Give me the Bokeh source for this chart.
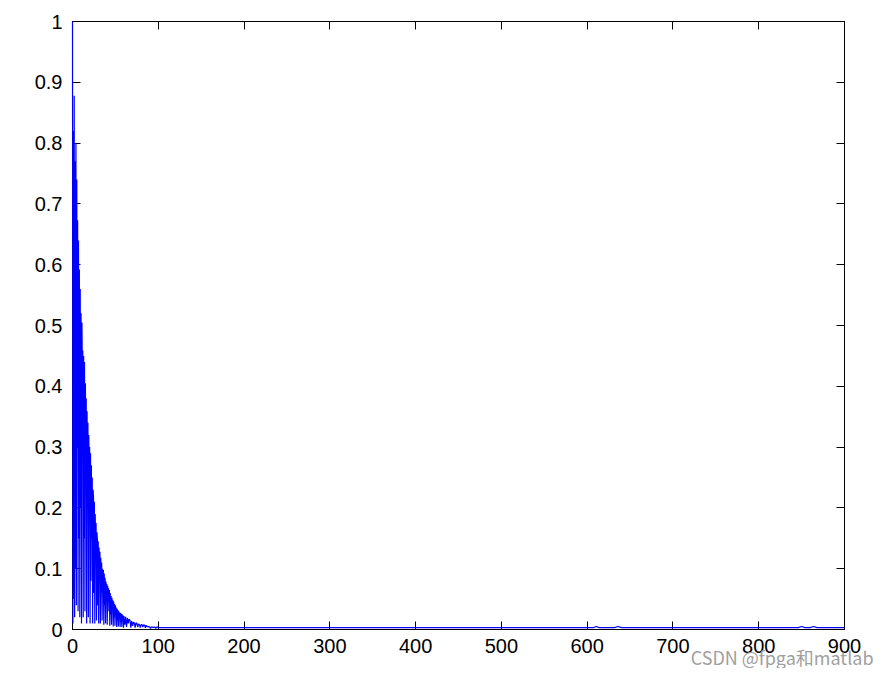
from bokeh.plotting import figure
from bokeh.models import Range1d, LinearAxis, FixedTicker, Title
from bokeh.embed import file_html
from bokeh.resources import INLINE

# ---- data ----
# dense part: samples every 0.5 from 0 to 60
dense_step = 0.5
dense_y = [1.000, 0.010, 0.820, 0.050, 0.878, 0.020, 0.770, 0.100, 0.800, 0.040,
           0.740, 0.300, 0.673, 0.030, 0.640, 0.150, 0.592, 0.020, 0.560, 0.200,
           0.520, 0.010, 0.505, 0.420, 0.459, 0.020, 0.450, 0.150, 0.440, 0.030,
           0.405, 0.330, 0.380, 0.010, 0.359, 0.200, 0.340, 0.020, 0.320, 0.250,
           0.300, 0.010, 0.290, 0.080, 0.270, 0.150, 0.250, 0.010, 0.230, 0.217,
           0.060, 0.210, 0.010, 0.190, 0.120, 0.175, 0.015, 0.160, 0.148, 0.040,
           0.145, 0.010, 0.135, 0.090, 0.128, 0.010, 0.118, 0.060, 0.110, 0.015,
           0.100, 0.080, 0.098, 0.008, 0.092, 0.040, 0.085, 0.010, 0.079, 0.060,
           0.075, 0.008, 0.072, 0.030, 0.068, 0.050, 0.065, 0.006, 0.060, 0.025,
           0.055, 0.008, 0.052, 0.035, 0.048, 0.005, 0.046, 0.020, 0.042, 0.006,
           0.040, 0.028, 0.036, 0.004, 0.034, 0.015, 0.032, 0.005, 0.030, 0.020,
           0.028, 0.004, 0.027, 0.012, 0.026, 0.004, 0.025, 0.015, 0.023, 0.003,
           0.022]
# sparse part: x = 61 .. 100
sparse_x = list(range(61, 101))
sparse_y = [0.008, 0.021, 0.004, 0.019, 0.010, 0.017, 0.015, 0.003, 0.014, 0.006,
            0.012, 0.011, 0.003, 0.011, 0.010, 0.004, 0.009, 0.008, 0.003, 0.008,
            0.008, 0.004, 0.008, 0.007, 0.003, 0.007, 0.005, 0.004, 0.005, 0.004,
            0.002, 0.004, 0.004, 0.003, 0.004, 0.004, 0.002, 0.004, 0.004, 0.003]
# flat tail with small blips
tail_x = [101, 607, 611, 614, 632, 636, 640, 846, 850, 854, 860, 864, 868, 900]
tail_y = [0.003, 0.003, 0.005, 0.003, 0.003, 0.005, 0.003, 0.003, 0.005, 0.003,
          0.003, 0.005, 0.003, 0.003]

x_ticks = [0, 100, 200, 300, 400, 500, 600, 700, 800, 900]
x_tick_labels = ["0", "100", "200", "300", "400", "500", "600", "700", "800", "900"]
y_ticks = [0, 0.1, 0.2, 0.3, 0.4, 0.5, 0.6, 0.7, 0.8, 0.9, 1]
y_tick_labels = ["0", "0.1", "0.2", "0.3", "0.4", "0.5", "0.6", "0.7", "0.8", "0.9", "1"]

watermark = "CSDN @fpga和matlab"

dense_x = [i * dense_step for i in range(len(dense_y))]
xs = dense_x + sparse_x + tail_x
ys = dense_y + sparse_y + tail_y

FONT = "Liberation Sans"

p = figure(width=881, height=668, output_backend="svg", toolbar_location=None,
           x_range=Range1d(0, 900), y_range=Range1d(0, 1),
           min_border_left=72, min_border_right=37, min_border_top=21,
           min_border_bottom=39, x_axis_location=None, y_axis_location=None)
p.background_fill_color = "white"
p.border_fill_color = "white"
p.outline_line_color = "black"
p.outline_line_width = 1
p.xgrid.visible = False
p.ygrid.visible = False

r = p.line(xs, ys, line_color="#0000ff", line_width=1.2)
r.level = "overlay"

def style(ax, ticks, labels, show_labels, standoff):
    ax.ticker = FixedTicker(ticks=ticks)
    ax.major_label_overrides = {t: l for t, l in zip(ticks, labels)}
    ax.minor_tick_line_color = None
    ax.major_tick_in = 8
    ax.major_tick_out = 0
    ax.major_tick_line_color = "black"
    ax.axis_line_color = "black"
    ax.major_label_text_font = FONT
    ax.major_label_text_font_size = "20px"
    ax.major_label_text_color = "black" if show_labels else None
    ax.major_label_standoff = standoff

bottom = LinearAxis()
style(bottom, x_ticks, x_tick_labels, True, 9)
p.add_layout(bottom, "below")
left = LinearAxis()
style(left, y_ticks, y_tick_labels, True, 10)
p.add_layout(left, "left")
top = LinearAxis()
style(top, x_ticks, x_tick_labels, False, 0)
top.major_label_text_font_size = "0px"
p.add_layout(top, "above")
right = LinearAxis()
style(right, y_ticks, y_tick_labels, False, 0)
right.major_label_text_font_size = "0px"
p.add_layout(right, "right")

wm = Title(text=watermark, align="right", offset=-29, standoff=-27,
           text_color="#a0a0a0", text_font="Noto Sans CJK SC",
           text_font_size="18px", text_font_style="normal")
p.add_layout(wm, "below")

open("out.html", "w").write(file_html(p, INLINE))
